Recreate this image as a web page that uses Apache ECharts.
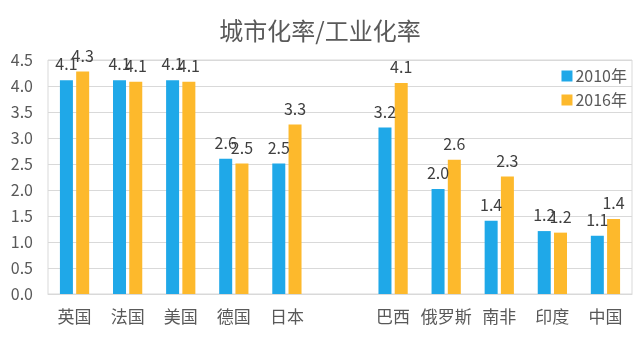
<!DOCTYPE html>
<html>
<head>
<meta charset="utf-8">
<script src="https://cdn.jsdelivr.net/npm/echarts@6/dist/echarts.min.js"></script>
<style>
  html, body { margin: 0; padding: 0; background: #fff; }
  #chart { width: 640px; height: 343px; }
</style>
</head>
<body>
<div id="chart"></div>
<script>
// Countries; the empty slot separates the developed and emerging groups
const categories = ['英国', '法国', '美国', '德国', '日本', '', '巴西', '俄罗斯', '南非', '印度', '中国'];
const seriesNames = ['2010年', '2016年'];
const values2010 = [4.11, 4.11, 4.11, 2.6, 2.51, '-', 3.2, 2.02, 1.41, 1.21, 1.12];
const values2016 = [4.28, 4.08, 4.08, 2.51, 3.26, '-', 4.06, 2.58, 2.26, 1.18, 1.44];
const yTicks = { min: 0, max: 4.5, interval: 0.5 };

const FONT = '"Noto Sans CJK SC", "Open Sans", sans-serif';
const TEXT = '#595959';

const labelStyle = {
  show: true,
  position: 'top',
  distance: 8,
  color: '#404040',
  fontSize: 16,
  fontFamily: FONT,
  formatter: p => Number(p.value).toFixed(1)
};

const chart = echarts.init(document.getElementById('chart'), null, { renderer: 'canvas' });
chart.setOption({
  animation: false,
  backgroundColor: '#ffffff',
  textStyle: { fontFamily: FONT },
  title: {
    text: '城市化率/工业化率',
    left: 'center',
    top: 14,
    textStyle: { color: TEXT, fontSize: 24, fontWeight: 'normal', fontFamily: FONT }
  },
  legend: {
    orient: 'vertical',
    right: 8,
    top: 63,
    itemWidth: 11,
    itemHeight: 11,
    itemGap: 8,
    icon: 'rect',
    textStyle: { color: TEXT, fontSize: 16, fontFamily: FONT, padding: [0, 0, 0, -2] },
    data: seriesNames
  },
  grid: {
    left: 48, right: 8, top: 60, bottom: 49,
    show: true, borderColor: '#D9D9D9', borderWidth: 1
  },
  xAxis: {
    type: 'category',
    data: categories,
    axisTick: { show: false },
    axisLine: { lineStyle: { color: '#D9D9D9' } },
    axisLabel: { color: TEXT, fontSize: 17, margin: 14, fontFamily: FONT, interval: 0 }
  },
  yAxis: {
    type: 'value',
    min: yTicks.min,
    max: yTicks.max,
    interval: yTicks.interval,
    axisLine: { show: false },
    axisTick: { show: false },
    splitLine: { lineStyle: { color: '#D9D9D9' } },
    axisLabel: {
      color: TEXT, fontSize: 16, margin: 15, fontFamily: FONT,
      formatter: v => v.toFixed(1)
    }
  },
  series: [
    {
      name: seriesNames[0], type: 'bar', data: values2010,
      barWidth: 13, barGap: '25%',
      itemStyle: { color: '#1FA8E8' },
      label: labelStyle
    },
    {
      name: seriesNames[1], type: 'bar', data: values2016,
      barWidth: 13,
      itemStyle: { color: '#FDB92C' },
      label: labelStyle
    }
  ]
});
</script>
</body>
</html>
